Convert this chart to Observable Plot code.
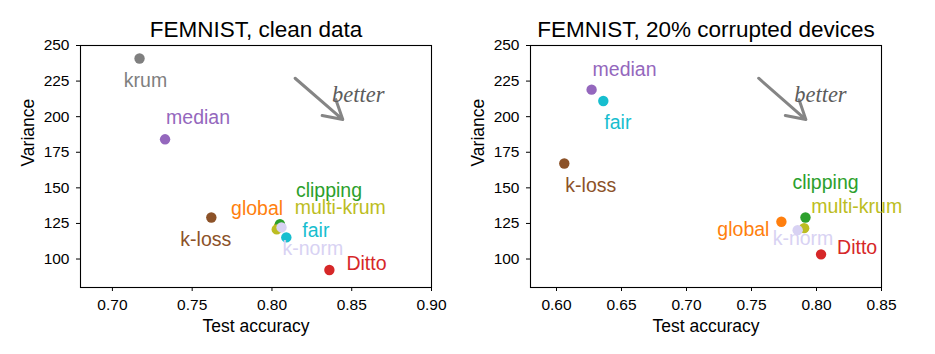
<!DOCTYPE html>
<html><head><meta charset="utf-8">
<script src="https://cdn.jsdelivr.net/npm/d3@7"></script>
<script src="https://cdn.jsdelivr.net/npm/@observablehq/plot@0.6"></script>
<style>
html,body{margin:0;padding:0;background:#fff;}
#wrap{display:flex;width:935px;height:354px;}
</style></head><body><div id="wrap"></div>
<script>
// ---- data ----
const methods = ["global","clipping","multi-krum","k-norm","fair","Ditto","median","k-loss","krum"];
const colors  = ["#ff7f0e","#2ca02c","#bcbd22","#d8d2f3","#17becf","#d62728","#9467bd","#8c5228","#7f7f7f"];
const cleanAcc   = [0.8045, 0.805, 0.803, 0.806, 0.809, 0.836, 0.733, 0.762, 0.717];
const cleanVar   = [123.0, 124.5, 120.8, 122.2, 115.2, 92.3, 184.1, 129.2, 240.9];
const corruptAcc = [0.773, 0.7915, 0.7905, 0.7855, 0.636, 0.8035, 0.627, 0.606, null];
const corruptVar = [126.2, 129.2, 121.7, 120.3, 211.0, 103.3, 219.0, 167.1, null];
const yTicks = [100,125,150,175,200,225,250];
const xTicksClean = [0.70,0.75,0.80,0.85,0.90];
const xTicksCorrupt = [0.60,0.65,0.70,0.75,0.80,0.85];
const titles = ["FEMNIST, clean data","FEMNIST, 20% corrupted devices"];
const xLabel = "Test accuracy", yLabel = "Variance", betterWord = "better";
// "better" arrow annotation (data coordinates)
const arrowClean   = {x1:0.8145, y1:227, x2:0.8444, y2:198, tx:0.8377, ty:210.3};
const arrowCorrupt = {x1:0.7555, y1:227, x2:0.7918, y2:198, tx:0.7828, ty:210.3};

// ---- label layout (pixel offsets from each point) ----
const layoutClean = {
  dx:[4,16,18,1,16,17,1,-31,6], dy:[-11,-27,-15,28,0,0,-15,29,29],
  anchor:["end","start","start","start","start","start","start","start","middle"]
};
const layoutCorrupt = {
  dx:[-12,-13,7,-25,1,16,1,1,0], dy:[14,-28,-15,15,28,0,-14,28,0],
  anchor:["end","start","start","start","start","start","start","start","start"]
};

const FONT = "'Liberation Sans', Arial, sans-serif";

function panel({title, acc, vari, xDomain, xTicks, layout, arrow, width, marginLeft, marginRight, yLabelDx}) {
  const data = methods.map((m,i)=>({m, x:acc[i], y:vari[i], c:colors[i], dx:layout.dx[i], dy:layout.dy[i], a:layout.anchor[i]}))
                      .filter(d=>d.x!=null);
  const labels = data.map(d => Plot.text([d], {x:"x", y:"y", text:"m", dx:d.dx, dy:d.dy, textAnchor:d.a,
                      lineAnchor:"bottom", fill:d.c, fontSize:19.5}));
  const svg = Plot.plot({
    width, height:354, marginLeft, marginRight, marginTop:45, marginBottom:67,
    style:{fontFamily:FONT, color:"black", background:"white", overflow:"visible"},
    x:{domain:xDomain}, y:{domain:[80,250]},
    color:{type:"identity"},
    marks:[
      Plot.axisX({ticks:xTicks, tickFormat:d3.format(".2f"), tickSize:4, tickPadding:7, fontSize:15.5, label:null}),
      Plot.axisY({ticks:yTicks, tickSize:4, tickPadding:7, fontSize:15.5, label:null}),
      Plot.frame({stroke:"black", strokeWidth:1.1}),
      Plot.arrow([arrow], {x1:"x1", y1:"y1", x2:"x2", y2:"y2", stroke:"#858585", strokeWidth:3, headLength:14, ariaLabel:"better arrow"}),
      Plot.text([arrow], {x:"tx", y:"ty", text:()=>betterWord, textAnchor:"start", lineAnchor:"bottom",
        fontFamily:"'Liberation Serif', 'DejaVu Serif', serif", fontStyle:"italic", fontSize:22.5, fill:"#5c5c5c", ariaLabel:"better text"}),
      Plot.dot(data, {x:"x", y:"y", fill:"c", r:5.2}),
      ...labels,
      Plot.text([title], {frameAnchor:"top", lineAnchor:"bottom", dy:-8.3, fontSize:22.5, fill:"black"}),
      Plot.text([xLabel], {frameAnchor:"bottom", lineAnchor:"bottom", dy:44.7, fontSize:17.5, fill:"black"}),
      Plot.text([yLabel], {frameAnchor:"left", rotate:-90, lineAnchor:"bottom", dx:yLabelDx, fontSize:17.5, fill:"black"})
    ]
  });
  d3.select(svg).selectAll('g[aria-label="better arrow"], g[aria-label="better text"]')
    .style("filter", "drop-shadow(3px 3px 2.5px rgba(0,0,0,0.45))");
  return svg;
}

const wrap = document.getElementById("wrap");
wrap.append(panel({title:titles[0], acc:cleanAcc, vari:cleanVar, xDomain:[0.68,0.90], xTicks:xTicksClean,
  layout:layoutClean, arrow:arrowClean, width:460, marginLeft:80, marginRight:29, yLabelDx:-47}));
wrap.append(panel({title:titles[1], acc:corruptAcc, vari:corruptVar, xDomain:[0.58,0.85], xTicks:xTicksCorrupt,
  layout:layoutCorrupt, arrow:arrowCorrupt, width:475, marginLeft:70, marginRight:54, yLabelDx:-46.3}));
</script></body></html>
